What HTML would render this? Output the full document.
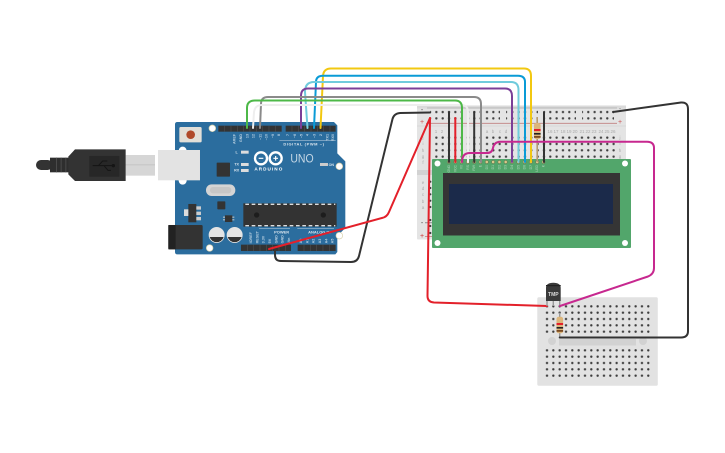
<!DOCTYPE html>
<html><head><meta charset="utf-8"><style>
html,body{margin:0;padding:0;background:#fff;width:725px;height:453px;overflow:hidden}
svg{display:block}
text{font-family:"Liberation Sans",sans-serif}
.w{fill:none;stroke-width:2;stroke-linecap:round;stroke-linejoin:round}
</style></head><body>
<svg width="725" height="453" viewBox="0 0 725 453" xmlns="http://www.w3.org/2000/svg">
<defs>
<pattern id="h1" patternUnits="userSpaceOnUse" x="433.2" y="134.5" width="6.33" height="6.33"><circle cx="3.16" cy="3.16" r="1.2" fill="#404040"/></pattern>
<pattern id="h2" patternUnits="userSpaceOnUse" x="433.2" y="108.9" width="6.33" height="6.33"><circle cx="3.16" cy="3.16" r="1.2" fill="#404040"/></pattern>
<pattern id="h3" patternUnits="userSpaceOnUse" x="543.84" y="303.2" width="6.33" height="6.33"><circle cx="3.16" cy="3.16" r="1.2" fill="#3c3c3c"/></pattern>
<pattern id="h4" patternUnits="userSpaceOnUse" x="543.84" y="347.2" width="6.33" height="6.33"><circle cx="3.16" cy="3.16" r="1.2" fill="#3c3c3c"/></pattern>
</defs>

<!-- main breadboard -->
<rect x="417" y="105.5" width="209" height="134" rx="1" fill="#e4e4e4"/>
<rect x="417" y="105.5" width="209" height="3" fill="#dadada"/>
<rect x="417" y="125.5" width="209" height="1" fill="#d8d8d8"/>
<rect x="417" y="170" width="15" height="5" fill="#d2d2d2"/>
<line x1="427" y1="108" x2="617" y2="108" stroke="#aaa" stroke-width=".7"/>
<line x1="426" y1="123.3" x2="617" y2="123.3" stroke="#c08080" stroke-width=".9"/>
<rect x="430" y="109" width="32" height="13" fill="url(#h2)"/>
<rect x="468" y="109" width="32" height="13" fill="url(#h2)"/>
<rect x="506" y="109" width="32" height="13" fill="url(#h2)"/>
<rect x="544" y="109" width="32" height="13" fill="url(#h2)"/>
<rect x="582" y="109" width="32" height="13" fill="url(#h2)"/>
<rect x="433.2" y="134.5" width="182" height="31" fill="url(#h1)"/>
<g fill="#404040"><circle cx="430.3" cy="181.7" r="1.1"/><circle cx="430.3" cy="188" r="1.1"/><circle cx="430.3" cy="194.3" r="1.1"/><circle cx="430.3" cy="200.7" r="1.1"/><circle cx="430.3" cy="207" r="1.1"/><circle cx="430.3" cy="220" r="1.1"/><circle cx="430.3" cy="226" r="1.1"/><circle cx="430.3" cy="233" r="1.1"/></g>
<rect x="425" y="222.4" width="7" height=".8" fill="#777"/>
<rect x="425" y="236" width="7" height=".8" fill="#c08080"/>
<g font-size="4.5" fill="#aaa" text-anchor="middle">
<text x="436" y="133">1</text><text x="442" y="133">2</text><text x="487" y="133">a</text><text x="493" y="133">b</text><text x="500" y="133">c</text><text x="506" y="133">d</text>
<text x="550" y="133">16</text><text x="556" y="133">17</text><text x="563" y="133">18</text><text x="569" y="133">19</text><text x="575" y="133">20</text><text x="582" y="133">21</text><text x="588" y="133">22</text><text x="594" y="133">23</text><text x="601" y="133">24</text><text x="607" y="133">25</text><text x="613" y="133">26</text>
<text x="423" y="139">j</text><text x="423" y="145">i</text><text x="423" y="152">h</text><text x="423" y="158">g</text><text x="423" y="164">f</text>
<text x="423" y="184">e</text><text x="423" y="190">d</text><text x="423" y="196">c</text><text x="423" y="203">b</text><text x="423" y="209">a</text>
<text x="620" y="139">j</text><text x="620" y="145">i</text><text x="620" y="152">h</text><text x="620" y="158">g</text><text x="620" y="164">f</text>
</g>
<text x="422" y="124" font-size="7" fill="#c55" text-anchor="middle">+</text>
<text x="620" y="124" font-size="7" fill="#c55" text-anchor="middle">+</text>
<text x="422" y="238" font-size="7" fill="#c33" text-anchor="middle">+</text>
<text x="422" y="225" font-size="7" fill="#444" text-anchor="middle">-</text>
<text x="422" y="112" font-size="7" fill="#444" text-anchor="middle">-</text>
<text x="620" y="111" font-size="7" fill="#888" text-anchor="middle">-</text>

<!-- mini breadboard -->
<rect x="537.3" y="297.3" width="120.5" height="88.5" rx="1.5" fill="#e2e2e2"/>
<rect x="543.84" y="303.2" width="107.6" height="31.6" fill="url(#h3)"/>
<rect x="543.84" y="347.2" width="107.6" height="31.6" fill="url(#h4)"/>
<rect x="559" y="339" width="77" height="6.5" fill="#d2d2d2"/>
<circle cx="552" cy="341" r="4" fill="#d2d2d2"/><circle cx="643" cy="341" r="4" fill="#d2d2d2"/>

<!-- LCD -->
<rect x="432" y="159" width="199" height="89" rx="1" fill="#52a66b"/>
<rect x="443" y="173" width="177" height="62.5" fill="#353535"/>
<rect x="449" y="184" width="164" height="40" fill="#1b2a4a"/>
<g fill="#fff"><circle cx="437.5" cy="163.5" r="3"/><circle cx="625" cy="163.5" r="3"/><circle cx="437.5" cy="243" r="3"/><circle cx="625" cy="243" r="3"/></g>
<g fill="#d8c98a" stroke="#6b6b4a" stroke-width=".5">
<circle cx="449" cy="162" r="1.6"/><circle cx="455.3" cy="162" r="1.6"/><circle cx="461.6" cy="162" r="1.6"/><circle cx="467.9" cy="162" r="1.6"/><circle cx="474.2" cy="162" r="1.6"/><circle cx="480.5" cy="162" r="1.6"/><circle cx="486.8" cy="162" r="1.6"/><circle cx="493.1" cy="162" r="1.6"/><circle cx="499.4" cy="162" r="1.6"/><circle cx="505.7" cy="162" r="1.6"/><circle cx="512" cy="162" r="1.6"/><circle cx="518.3" cy="162" r="1.6"/><circle cx="524.6" cy="162" r="1.6"/><circle cx="530.9" cy="162" r="1.6"/><circle cx="537.2" cy="162" r="1.6"/><circle cx="543.5" cy="162" r="1.6"/>
</g>
<g fill="#cfe5d6" font-size="3.4" text-anchor="end" opacity=".75">
<text transform="rotate(-90 450 165)" x="450" y="165">GND</text><text transform="rotate(-90 456.3 165)" x="456.3" y="165">VCC</text><text transform="rotate(-90 462.6 165)" x="462.6" y="165">V0</text><text transform="rotate(-90 468.9 165)" x="468.9" y="165">RS</text><text transform="rotate(-90 475.2 165)" x="475.2" y="165">RW</text><text transform="rotate(-90 481.5 165)" x="481.5" y="165">E</text><text transform="rotate(-90 487.8 165)" x="487.8" y="165">D0</text><text transform="rotate(-90 494.1 165)" x="494.1" y="165">D1</text><text transform="rotate(-90 500.4 165)" x="500.4" y="165">D2</text><text transform="rotate(-90 506.7 165)" x="506.7" y="165">D3</text><text transform="rotate(-90 513 165)" x="513" y="165">D4</text><text transform="rotate(-90 519.3 165)" x="519.3" y="165">D5</text><text transform="rotate(-90 525.6 165)" x="525.6" y="165">D6</text><text transform="rotate(-90 531.9 165)" x="531.9" y="165">D7</text><text transform="rotate(-90 538.2 165)" x="538.2" y="165">LED</text><text transform="rotate(-90 544.5 165)" x="544.5" y="165">K</text>
</g>

<!-- USB -->
<g transform="translate(30,135) scale(.3333)">
<rect x="287" y="60" width="88" height="62" fill="#d6d6d6"/>
<rect x="287" y="88" width="88" height="3" fill="#c4c4c4"/>
<rect x="18" y="75" width="50" height="30" rx="15" fill="#333"/>
<rect x="60" y="68" width="60" height="44" fill="#2e2e2e"/>
<rect x="78" y="68" width="3" height="44" fill="#4a4a4a"/><rect x="92" y="68" width="3" height="44" fill="#4a4a4a"/><rect x="106" y="68" width="3" height="44" fill="#4a4a4a"/>
<path d="M115 65L135 43H287V138H135L115 118Z" fill="#333"/>
<rect x="178" y="63" width="90" height="62" fill="#272727"/>
<path d="M188 92H250M205 92L218 78H232M222 92L234 106H243" stroke="#151515" stroke-width="3" fill="none"/>
<circle cx="250" cy="92" r="5" fill="#151515"/>
</g>

<!-- Arduino -->
<g transform="translate(160,90) scale(.3333)">
<path d="M52 96H522L532 106V190L556 214V414L532 438V486L526 493H52Q45 493 45 486V103Q45 96 52 96Z" fill="#2b6d9e"/>
<rect x="175" y="107" width="190" height="18" fill="#333"/>
<rect x="377" y="107" width="150" height="18" fill="#333"/>
<rect x="243" y="464" width="150" height="19" fill="#333"/>
<rect x="413" y="464" width="114" height="19" fill="#333"/>
<g stroke="#555" stroke-width="1.5">
<path d="M194 107V125M213 107V125M232 107V125M251 107V125M270 107V125M289 107V125M308 107V125M327 107V125M346 107V125M396 107V125M415 107V125M434 107V125M453 107V125M472 107V125M491 107V125M510 107V125M262 464V483M281 464V483M300 464V483M319 464V483M338 464V483M357 464V483M376 464V483M432 464V483M451 464V483M470 464V483M489 464V483M508 464V483"/>
</g>
<g fill="#fff" stroke="#d6cfa8" stroke-width="2"><circle cx="157" cy="115" r="10"/><circle cx="538" cy="229" r="10"/><circle cx="538" cy="437" r="10"/><circle cx="149" cy="474" r="10"/></g>
<rect x="58" y="111" width="67" height="46" rx="4" fill="#e2dfd8"/>
<circle cx="92" cy="134" r="13" fill="#b04a2a"/>
<circle cx="68" cy="182" r="12" fill="#fff"/><circle cx="68" cy="272" r="12" fill="#fff"/>
<rect x="-6" y="180" width="126" height="91" fill="#e3e3e3"/>
<rect x="170" y="218" width="40" height="42" rx="2" fill="#333"/>
<rect x="172" y="334" width="24" height="24" rx="2" fill="#333"/>
<rect x="138" y="283" width="88" height="35" rx="17" fill="#d4d4d4"/>
<rect x="150" y="291" width="64" height="19" rx="9" fill="#c6c6c6"/>
<rect x="85" y="342" width="24" height="55" fill="#333"/>
<rect x="72" y="358" width="13" height="20" fill="#ddd"/>
<rect x="109" y="349" width="14" height="10" fill="#ccc"/><rect x="109" y="365" width="14" height="10" fill="#ccc"/><rect x="109" y="381" width="14" height="10" fill="#ccc"/>
<rect x="195" y="376" width="22" height="20" fill="#333"/>
<rect x="189" y="380" width="6" height="3" fill="#ccc"/><rect x="189" y="388" width="6" height="3" fill="#ccc"/><rect x="217" y="380" width="6" height="3" fill="#ccc"/><rect x="217" y="388" width="6" height="3" fill="#ccc"/>
<rect x="250" y="340" width="280" height="70" fill="#333"/>
<path d="M256 343H526M256 407H526" stroke="#ddd" stroke-width="4" stroke-dasharray="11 8"/>
<circle cx="290" cy="375" r="8" fill="#1d1d1d"/><circle cx="490" cy="375" r="8" fill="#1d1d1d"/>
<rect x="25" y="405" width="103" height="73" rx="4" fill="#333"/>
<rect x="25" y="405" width="22" height="73" fill="#222"/>
<circle cx="170" cy="435" r="24" fill="#e4e4e4"/><path d="M149 441A22 22 0 0 0 191 441Z" fill="#333"/>
<circle cx="224" cy="435" r="24" fill="#e4e4e4"/><path d="M203 441A22 22 0 0 0 245 441Z" fill="#333"/>
<rect x="243" y="182" width="23" height="9" fill="#ddd"/>
<rect x="243" y="219" width="23" height="9" fill="#ddd"/>
<rect x="243" y="237" width="23" height="9" fill="#ddd"/>
<rect x="480" y="219" width="24" height="9" fill="#ccc"/>
<g fill="none" stroke="#fff" stroke-width="7"><circle cx="303" cy="205" r="18"/><circle cx="347" cy="205" r="18"/></g>
<path d="M296 205H310M340 205H354M347 198V212" stroke="#fff" stroke-width="3.5"/>
<text x="325" y="241" font-size="14" font-weight="700" fill="#fff" text-anchor="middle" textLength="84">ARDUINO</text>
<text x="426" y="217" font-size="35" fill="#c6d8e6" text-anchor="middle" textLength="70" lengthAdjust="spacingAndGlyphs">UNO</text>
<text x="431" y="166" font-size="12" font-weight="700" fill="#d9e5ee" text-anchor="middle" textLength="122">DIGITAL (PWM ~)</text>
<path d="M358 152H527M297 415H390M412 415H522" stroke="#c8dae8" stroke-width="1.5" fill="none"/>
<text x="365" y="430" font-size="12" font-weight="700" fill="#d9e5ee" text-anchor="middle">POWER</text>
<text x="478" y="430" font-size="12" font-weight="700" fill="#d9e5ee" text-anchor="middle">ANALOG IN</text>
<text x="230" y="191" font-size="11" font-weight="700" fill="#d9e5ee" text-anchor="middle">L</text>
<text x="230" y="227" font-size="11" font-weight="700" fill="#d9e5ee" text-anchor="middle">TX</text>
<text x="230" y="245" font-size="11" font-weight="700" fill="#d9e5ee" text-anchor="middle">RX</text>
<text x="514" y="228" font-size="11" font-weight="700" fill="#d9e5ee" text-anchor="middle">ON</text>
<g font-size="11" font-weight="700" fill="#bcd2e2" text-anchor="end">
<text transform="rotate(-90 226 132)" x="226" y="132">AREF</text>
<text transform="rotate(-90 246 132)" x="246" y="132">GND</text>
<text transform="rotate(-90 266 132)" x="266" y="132">13</text>
<text transform="rotate(-90 284 132)" x="284" y="132">12</text>
<text transform="rotate(-90 304 132)" x="304" y="132">~11</text>
<text transform="rotate(-90 323 132)" x="323" y="132">~10</text>
<text transform="rotate(-90 342 132)" x="342" y="132">~9</text>
<text transform="rotate(-90 360 132)" x="360" y="132">8</text>
<text transform="rotate(-90 387 132)" x="387" y="132">7</text>
<text transform="rotate(-90 408 132)" x="408" y="132">~6</text>
<text transform="rotate(-90 427 132)" x="427" y="132">~5</text>
<text transform="rotate(-90 445 132)" x="445" y="132">4</text>
<text transform="rotate(-90 467 132)" x="467" y="132">~3</text>
<text transform="rotate(-90 486 132)" x="486" y="132">2</text>
<text transform="rotate(-90 505 132)" x="505" y="132">TX1</text>
<text transform="rotate(-90 522 132)" x="522" y="132">RX0</text>
</g>
<g font-size="11" font-weight="700" fill="#bcd2e2">
<text transform="rotate(-90 276 460)" x="276" y="460">IOREF</text>
<text transform="rotate(-90 295 460)" x="295" y="460">RESET</text>
<text transform="rotate(-90 314 460)" x="314" y="460">3.3V</text>
<text transform="rotate(-90 333 460)" x="333" y="460">5V</text>
<text transform="rotate(-90 352 460)" x="352" y="460">GND</text>
<text transform="rotate(-90 371 460)" x="371" y="460">GND</text>
<text transform="rotate(-90 390 460)" x="390" y="460">Vin</text>
<text transform="rotate(-90 426 460)" x="426" y="460">A0</text>
<text transform="rotate(-90 445 460)" x="445" y="460">A1</text>
<text transform="rotate(-90 464 460)" x="464" y="460">A2</text>
<text transform="rotate(-90 483 460)" x="483" y="460">A3</text>
<text transform="rotate(-90 502 460)" x="502" y="460">A4</text>
<text transform="rotate(-90 521 460)" x="521" y="460">A5</text>
</g>
</g>

<!-- main resistor -->
<line x1="537.2" y1="117" x2="537.2" y2="162" stroke="#b59a70" stroke-width="1.6"/>
<rect x="534" y="123" width="6.6" height="16" rx="2.2" fill="#dcb67c"/>
<rect x="534" y="129" width="6.6" height="2" fill="#e3202a"/>
<rect x="534" y="133" width="6.6" height="1.6" fill="#222"/>
<rect x="534" y="136" width="6.6" height="1.8" fill="#7a4a20"/>

<!-- wires -->
<path class="w" stroke="#333" d="M449 112V162M474.2 112V162M544 112V162"/>
<path class="w" stroke="#e3202a" d="M455.3 118V162"/>
<path class="w" stroke="#f2c811" d="M320.5 128L323 76Q323.5 68.5 331 68.5H524Q531 68.5 531 76V162"/>
<path class="w" stroke="#0a9bd6" d="M314 128L316 82Q316 75.7 323 75.7H518Q525 75.7 525 82V162"/>
<path class="w" stroke="#70cbdc" d="M307.5 128L305 92Q305 82 314 82H511Q518.5 82 518.5 90V162"/>
<path class="w" stroke="#7b3f98" d="M301 128V96Q301 88.5 308 88.5H505Q512 88.5 512 96V162"/>
<path class="w" stroke="#8a8a8a" d="M260 128L261 104Q261 97 268 97H474Q481 97 481 104V162"/>
<path class="w" stroke="#eeeeee" d="M253 128L254 112Q255 105 262 105H461Q468 105 468 112V162"/>
<path class="w" stroke="#4db848" d="M247 128V108Q247 100.5 255 100.5H455Q462 100.5 462 108V162"/>
<path class="w" stroke="#333" d="M430 112.5L400 113Q394 113.5 392.5 119L359 256Q357.5 262 351 262L281 261Q275 261 275 255V249"/>
<path class="w" stroke="#e3202a" d="M430 118L389 212Q387 217 382 218L269 249"/>
<path class="w" stroke="#e3202a" d="M430 118L427.5 296Q427.5 302 434 302.5L547 306"/>

<!-- transistor -->
<path d="M547 306V298M553.3 306V298M559.7 306V298" stroke="#999" stroke-width="1.4"/>
<path d="M546 288Q546 282.7 553.3 282.7Q560.7 282.7 560.7 288V301H546Z" fill="#3a3a3a"/>
<rect x="546" y="285" width="14.7" height="1.2" fill="#222"/>
<text x="553.3" y="296" font-size="5" font-weight="700" fill="#ddd" text-anchor="middle">TMP</text>

<!-- small resistor -->
<line x1="559.7" y1="312.7" x2="559.7" y2="338" stroke="#999" stroke-width="1.4"/>
<rect x="556.5" y="316.7" width="6.6" height="16.6" rx="2.2" fill="#dcb67c"/>
<rect x="556.5" y="323" width="6.6" height="2" fill="#e3202a"/>
<rect x="556.5" y="327" width="6.6" height="1.6" fill="#222"/>
<rect x="556.5" y="330" width="6.6" height="1.8" fill="#7a4a20"/>

<path class="w" stroke="#c7288f" d="M462 162Q462 153 470 153H487Q492 153 493 148Q494 142 500 141.7H647Q654 141.7 654 148V268Q654 274 648 276.5L560 306"/>
<path class="w" stroke="#333" d="M613 112L681 102.5Q688 102 688 109V331Q688 337.5 681 337.5H559.7"/>
</svg>
</body></html>
